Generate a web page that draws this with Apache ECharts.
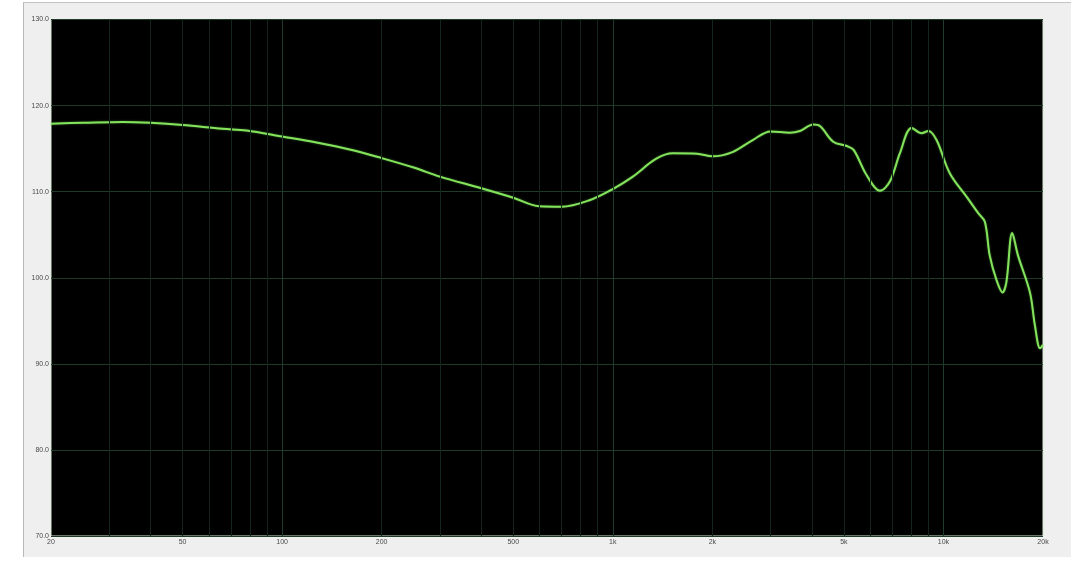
<!DOCTYPE html>
<html>
<head>
<meta charset="utf-8">
<script src="https://cdn.jsdelivr.net/npm/echarts@6/dist/echarts.min.js"></script>
<style>
  html, body { margin: 0; padding: 0; background: #fff; }
  #panel {
    position: absolute; left: 23px; top: 2px; width: 1048px; height: 555px;
    background: #efefef; border-left: 1px solid #b9b9b9; border-top: 1px solid #c4c4c4;
    box-sizing: border-box;
  }
  #chart { position: absolute; left: 0; top: 0; width: 1080px; height: 563px; }
</style>
</head>
<body>
<div id="panel"></div>
<div id="chart"></div>
<script>
// 频响曲线数据 (Hz / dB)
var freqs = [20, 25, 33, 40, 50, 66, 78, 100, 127, 160, 200, 250, 300, 400, 500, 600, 700, 850,
  1000, 1150, 1350, 1520, 1800, 2000, 2300, 2650, 3000, 3430, 3680, 4040, 4240, 4640, 5100, 5350,
  5860, 6430, 6890, 7390, 8010, 8590, 9000, 9530, 10460, 11800, 12740, 13340, 13800, 14450, 15090,
  15500, 16140, 16800, 18260, 18900, 19600, 20000];
var levels = [117.9, 118.0, 118.1, 118.0, 117.75, 117.3, 117.1, 116.4, 115.7, 114.9, 113.9, 112.8, 111.75, 110.4, 109.3, 108.3, 108.25, 109.0,
  110.3, 111.75, 113.8, 114.45, 114.4, 114.1, 114.6, 116.0, 117.0, 116.85, 117.05, 117.8, 117.6, 115.8, 115.3, 114.85,
  111.9, 110.1, 111.2, 114.5, 117.4, 116.8, 117.05, 116.0, 112.1, 109.3, 107.5, 106.5, 102.6, 99.8, 98.3,
  99.5, 105.2, 102.6, 98.3, 94.5, 91.8, 92.2];

// 坐标轴刻度
var xLabelValues = [20, 50, 100, 200, 500, 1000, 2000, 5000, 10000, 20000];
var minorGrid = [30, 40, 50, 60, 70, 80, 90, 200, 300, 400, 500, 600, 700, 800, 900,
  2000, 3000, 4000, 5000, 6000, 7000, 8000, 9000];
var majorGrid = [100, 1000, 10000];

var chart = echarts.init(document.getElementById('chart'));
var labelColor = "#4a4a4a";

var gridLines = [];
minorGrid.forEach(function (f) {
  gridLines.push({ xAxis: f, lineStyle: { color: "#14261c", width: 1, type: "solid" } });
});
majorGrid.forEach(function (f) {
  gridLines.push({ xAxis: f, lineStyle: { color: "#203b2b", width: 1, type: "solid" } });
});

var option = {
  animation: false,
  backgroundColor: "transparent",
  grid: {
    left: 51,
    right: 37,
    top: 19.5,
    bottom: 27,
    show: true,
    backgroundColor: "#000",
    borderColor: "#d6ead2",
    borderWidth: 1
  },
  xAxis: {
    type: "log",
    logBase: 10,
    min: 20,
    max: 20000,
    axisLine: { show: false },
    axisTick: { show: false },
    splitLine: { show: false },
    axisLabel: {
      customValues: xLabelValues,
      color: labelColor,
      fontSize: 7,
      fontFamily: "Liberation Sans",
      margin: 3,
      formatter: function (v) {
        return v >= 1000 ? (v / 1000) + "k" : String(v);
      }
    }
  },
  yAxis: {
    type: "value",
    min: 70,
    max: 130,
    interval: 10,
    axisLine: { show: false },
    axisTick: { show: false },
    splitLine: { show: true, lineStyle: { color: "#1f3a29", width: 1 } },
    axisLabel: {
      color: labelColor,
      fontSize: 7,
      fontFamily: "Liberation Sans",
      margin: 2,
      formatter: function (v) { return v.toFixed(1); }
    }
  },
  series: [
    {
      name: "grid",
      type: "line",
      data: [],
      z: 1,
      silent: true,
      markLine: {
        silent: true,
        symbol: "none",
        label: { show: false },
        animation: false,
        data: gridLines
      }
    },
    {
      name: "FR",
      type: "line",
      z: 3,
      symbol: "none",
      smooth: 0.35,
      lineStyle: { color: "#84e35c", width: 2, shadowColor: "rgba(120,230,80,0.5)", shadowBlur: 2 },
      data: freqs.map(function (f, i) { return [f, levels[i]]; })
    }
  ]
};

chart.setOption(option);
</script>
</body>
</html>
